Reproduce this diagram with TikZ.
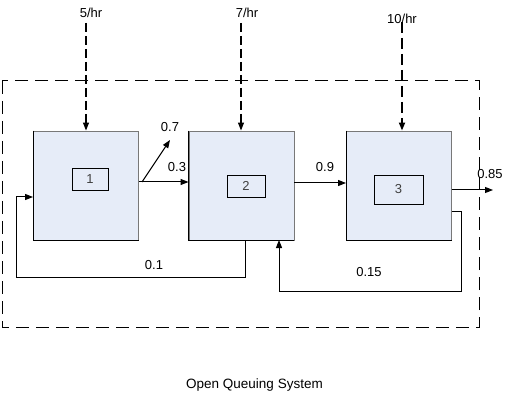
\documentclass[tikz,border=0pt]{standalone}
\usepackage{fontspec}
\setmainfont{Liberation Sans}
\usetikzlibrary{arrows.meta}
\definecolor{boxfill}{RGB}{230,236,248}
\definecolor{boxedge}{RGB}{120,120,120}
\begin{document}
\begin{tikzpicture}[x=1pt,y=-1pt,
  lbl/.style={font=\fontsize{13}{15}\selectfont, inner sep=0pt},
  station/.style={draw=boxedge, fill=boxfill, minimum width=105pt, minimum height=109pt, inner sep=0pt, line width=0.9pt},
  inbox/.style={draw=black, fill=boxfill, inner sep=0pt, line width=0.9pt, font=\fontsize{13}{15}\selectfont, text=black!75},
  tip/.style={-{Triangle[length=8pt,width=6pt]}},
  flow/.style={tip, line width=1pt},
  inflow/.style={tip, line width=1.1pt, dash pattern=on 9pt off 4pt},
  boundary/.style={line width=1pt, dash pattern=on 13pt off 7pt}
]
\useasboundingbox (0,0) rectangle (530,414);

% boundary
\draw[boundary] (2,81) rectangle (479,327);

% stations
\node[station] (b1) at (86,185.5) {};
\node[station] (b2) at (241.5,185.5) {};
\node[station] (b3) at (399,185.5) {};
\foreach \b in {b1,b2,b3}{
  \draw[line width=0.9pt] (\b.north west) -- (\b.south west) -- (\b.south east);
}
\node[inbox, minimum width=36pt, minimum height=22pt] (q1) at (90,179) {1};
\node[inbox, minimum width=38pt, minimum height=22pt] (q2) at (246,186) {2};
\node[inbox, minimum width=49pt, minimum height=29pt] (q3) at (398.5,189.5) {3};

% arrivals
\node[lbl] (a1) at (91,13) {5/hr};
\node[lbl] (a2) at (247,13) {7/hr};
\node[lbl] (a3) at (402,19) {10/hr};
\coordinate (s1) at (86,23);
\coordinate (s2) at (241,23);
\coordinate (s3) at (402,22);
\draw[inflow] (s1) -- (s1 |- b1.north);
\draw[inflow] (s2) -- (s2 |- b2.north);
\draw[inflow, line width=1.8pt, dash pattern=on 11pt off 5pt] (s3) -- (s3 |- b3.north);

% flow 1 -> 2 and departure 0.7
\coordinate (y12) at (0,182);
\coordinate (br) at (142,182);
\coordinate (out1) at (170,140);
\draw[flow] (b1.east |- y12) -- (b2.west |- y12);
\draw[flow] (br) -- (out1);
\node[lbl] (l07) at (170,127) {0.7};
\node[lbl] (l03) at (177,167) {0.3};

% flow 2 -> 3
\coordinate (y23) at (0,183);
\draw[flow] (b2.east |- y23) -- (b3.west |- y23);
\node[lbl] (l09) at (325,167) {0.9};

% departure from 3
\coordinate (y3) at (0,190);
\coordinate (out3) at (493,190);
\draw[flow] (b3.east |- y3) -- (out3);
\node[lbl] (l085) at (490,174) {0.85};

% feedback 2 -> 1
\coordinate (f2) at (245,240);
\coordinate (fy1) at (0,197);
\draw[flow] (f2) |- (16,277) |- (b1.west |- fy1);
\node[lbl] (l01) at (154,265) {0.1};

% feedback 3 -> 2
\coordinate (fy3) at (0,212);
\coordinate (f3) at (279,240);
\draw[flow] (b3.east |- fy3) -| (461,291) -| (f3);
\node[lbl] (l015) at (369,272) {0.15};

% caption
\node[lbl, font=\fontsize{13.5}{16}\selectfont] (cap) at (254.5,385) {Open Queuing System};
\end{tikzpicture}
\end{document}
